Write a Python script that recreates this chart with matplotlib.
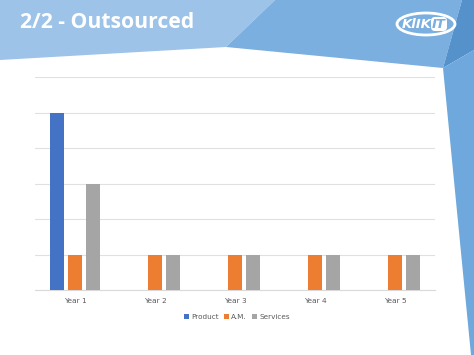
import numpy as np
import matplotlib.pyplot as plt
from matplotlib.patches import Polygon, Ellipse, FancyBboxPatch

years = ['Year 1', 'Year 2', 'Year 3', 'Year 4', 'Year 5']
product = [5, 0, 0, 0, 0]
am = [1, 1, 1, 1, 1]
services = [3, 1, 1, 1, 1]

series = [('Product', product, '#4472c4'),
          ('A.M.', am, '#ed7d31'),
          ('Services', services, '#a5a5a5')]

fig = plt.figure(figsize=(4.74, 3.55), dpi=100)
fig.patch.set_facecolor('white')

# slide background (pixel coords)
bg = fig.add_axes([0, 0, 1, 1])
bg.set_xlim(0, 474)
bg.set_ylim(355, 0)
bg.axis('off')
bg.add_patch(Polygon([(0, 0), (275, 0), (226, 47), (0, 60)], color='#9dc3e8', lw=0))
bg.add_patch(Polygon([(275, 0), (462, 0), (443, 68), (226, 47)], color='#7aafdf', lw=0))
bg.add_patch(Polygon([(462, 0), (474, 0), (474, 50), (443, 68)], color='#5592cc', lw=0))
bg.add_patch(Polygon([(443, 68), (474, 50), (474, 355), (471, 355)], color='#6fa8dc', lw=0))

bg.text(20, 23, '2/2 - Outsourced', color='white', fontsize=15.2, fontweight='bold',
        family='Open Sans', va='center', ha='left')

# logo
bg.add_patch(Ellipse((426, 24), 58, 22, fill=False, ec='white', lw=2))
bg.add_patch(FancyBboxPatch((431, 17), 16, 14, boxstyle='round,pad=0,rounding_size=4',
                            fc='white', ec='none'))
bg.text(417, 24.5, 'KlIK', color='white', fontsize=9.5, fontweight='bold',
        style='italic', ha='center', va='center')
bg.text(439, 24.5, 'IT', color='#7aafdf', fontsize=9.5, fontweight='bold',
        style='italic', ha='center', va='center')

ax = fig.add_axes([35 / 474, 1 - 290 / 355, 400 / 474, 213 / 355])
ax.set_facecolor('none')
x = np.arange(len(years))
w = 0.175
offs = [-0.22, 0, 0.22]
for (name, vals, col), o in zip(series, offs):
    ax.bar(x + o, vals, w, color=col, label=name, zorder=3)

ax.set_xlim(-0.5, len(years) - 0.5)
ax.set_ylim(0, 6)
ax.set_yticks(range(7))
ax.set_yticklabels([])
ax.tick_params(axis='y', length=0)
ax.tick_params(axis='x', length=0, labelsize=5.3, labelcolor='#595959', pad=5.5)
ax.set_xticks(x)
ax.set_xticklabels(years)
ax.grid(axis='y', color='#e0e0e0', lw=0.8, zorder=0)
for s in ['top', 'right', 'left']:
    ax.spines[s].set_visible(False)
ax.spines['bottom'].set_color('#d9d9d9')

ax.legend(loc='upper center', bbox_to_anchor=(0.505, -0.08), ncol=3, frameon=False,
          fontsize=5.2, labelcolor='#595959', handlelength=0.7, handleheight=0.7,
          handletextpad=0.3, columnspacing=0.7)

fig.savefig('out.png', dpi=100)
